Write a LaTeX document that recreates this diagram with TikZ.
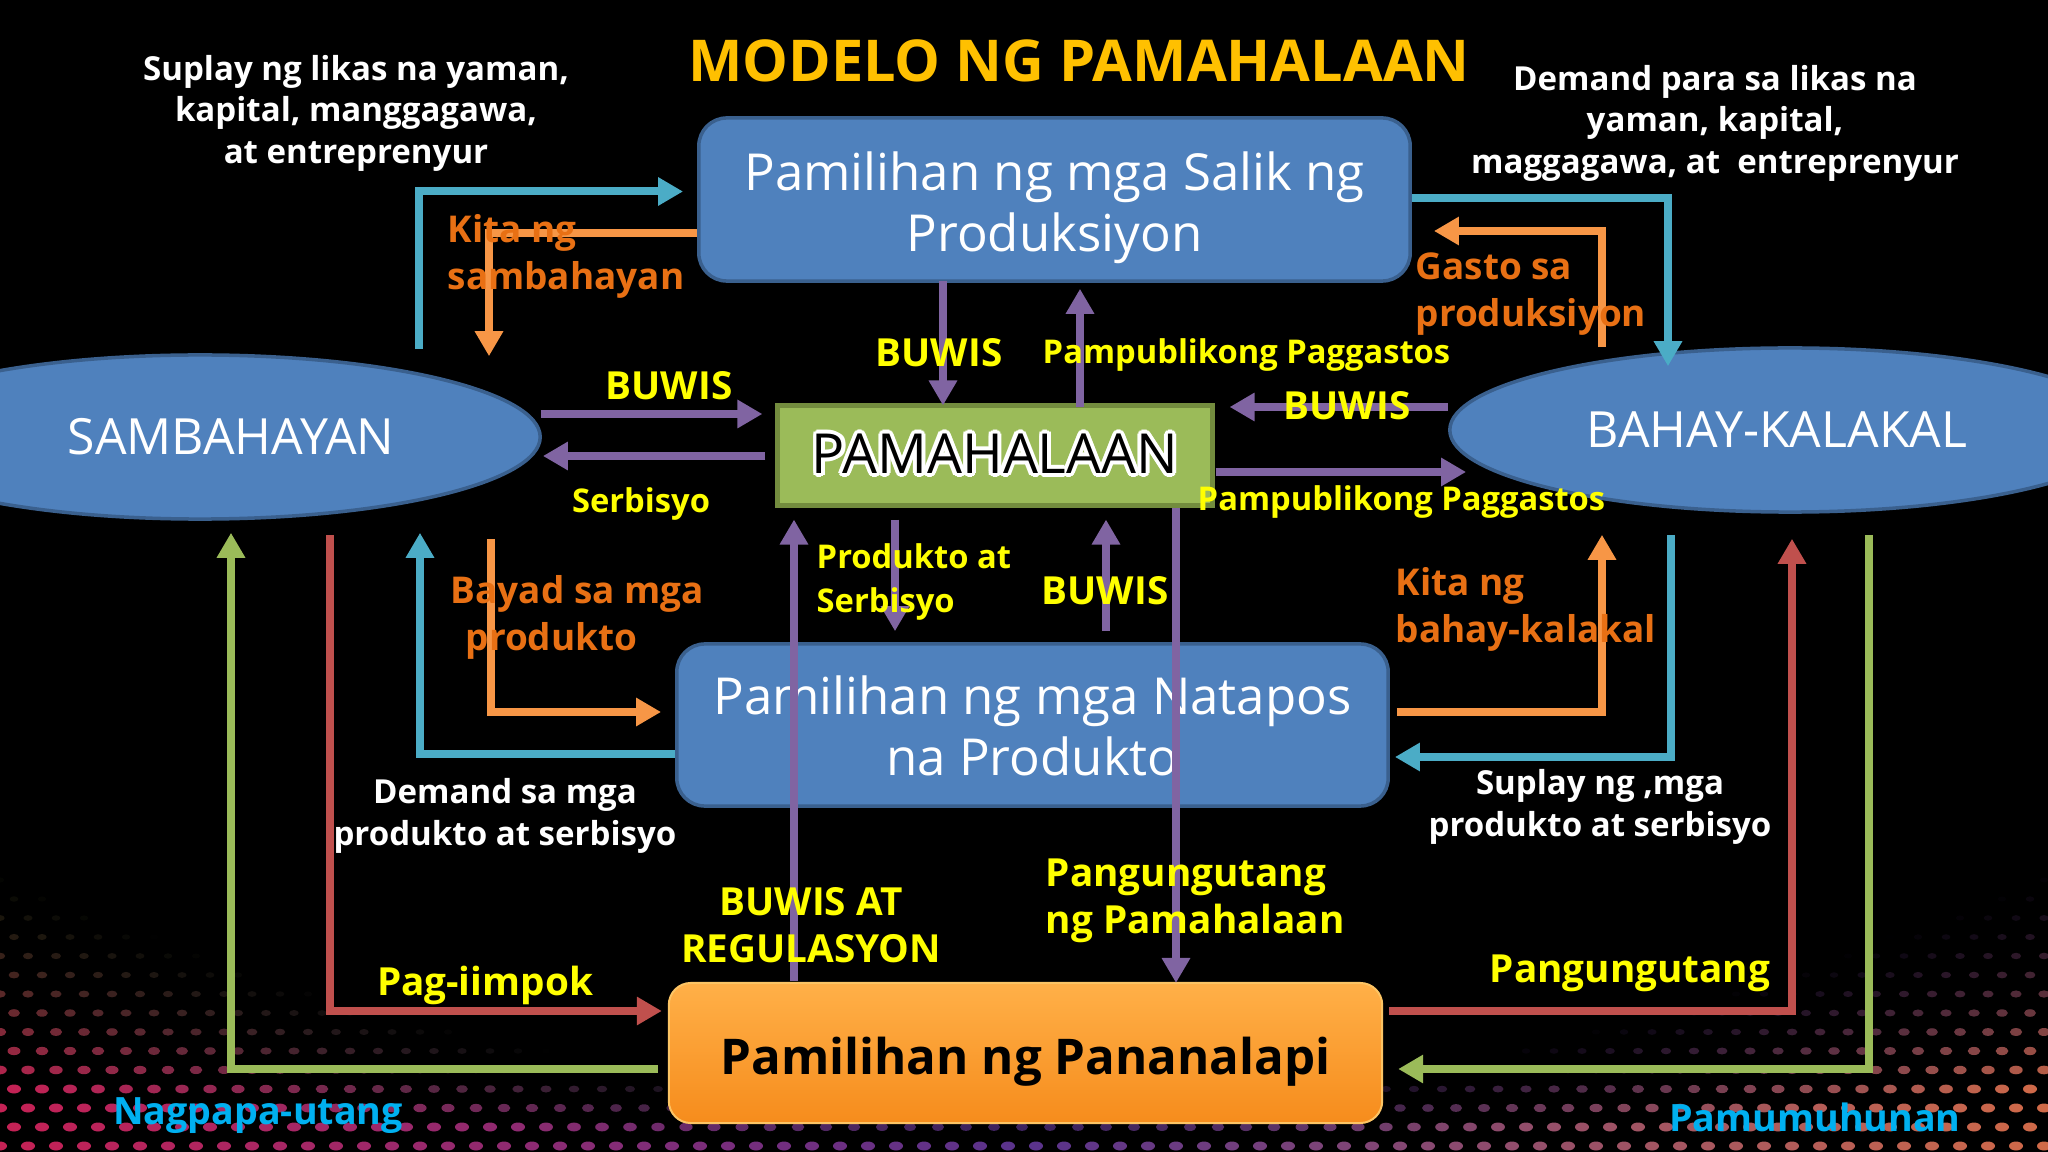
\documentclass[tikz,border=0pt]{standalone}
\usepackage{fontspec}
\setmainfont{Open Sans}
\usepackage{contour}
\usepackage{tikz}
\usetikzlibrary{shapes.geometric}
\usetikzlibrary{arrows.meta}

\definecolor{bgmid}{RGB}{26,26,26}
\definecolor{bluefill}{RGB}{79,129,189}
\definecolor{blueedge}{RGB}{58,96,142}
\definecolor{greenfill}{RGB}{155,187,89}
\definecolor{greenedge}{RGB}{115,140,62}
\definecolor{orangetop}{RGB}{255,176,72}
\definecolor{orangebot}{RGB}{246,140,28}
\definecolor{cyanline}{RGB}{75,172,198}
\definecolor{orangeline}{RGB}{247,150,70}
\definecolor{purpleline}{RGB}{128,100,162}
\definecolor{redline}{RGB}{192,80,77}
\definecolor{greenline}{RGB}{155,187,89}
\definecolor{titlegold}{RGB}{255,192,0}
\definecolor{lblyellow}{RGB}{255,255,0}
\definecolor{lblorange}{RGB}{232,112,20}
\definecolor{lblcyan}{RGB}{0,176,240}
\definecolor{dotpink}{RGB}{232,40,100}
\definecolor{dotolive}{RGB}{120,140,60}
\definecolor{dotpurple}{RGB}{105,60,165}
\definecolor{dotsalmon}{RGB}{245,125,85}

\newcommand{\lowered}[2]{\raisebox{-#1}[\height][\depth]{\begin{tabular}{@{}c@{}}#2\end{tabular}}}

\tikzset{
  bluebox/.style={draw=blueedge, line width=0.035cm, fill=bluefill, rounded corners=0.28cm,
    text=white, align=center, inner sep=0pt, font=\fontsize{14.5}{17.4}\selectfont},
  blueoval/.style={ellipse, draw=blueedge, line width=0.035cm, fill=bluefill, text=white,
    inner sep=0pt, minimum width=6.8cm, minimum height=1.64cm, font=\fontsize{14.2}{17}\selectfont},
  arr/.style={line width=0.08cm, -{Triangle[length=0.25cm,width=0.27cm]}},
  cyanarr/.style={arr, draw=cyanline},
  orangearr/.style={arr, draw=orangeline},
  purplearr/.style={arr, draw=purpleline},
  redarr/.style={arr, draw=redline},
  greenarr/.style={arr, draw=greenline},
  lbl/.style={inner sep=0pt, align=center, text=white, font=\fontsize{9.4}{11.8}\selectfont\bfseries},
  ylbl/.style={inner sep=0pt, align=left, text=lblyellow, font=\fontsize{9.3}{12.6}\selectfont\bfseries},
  bigylbl/.style={inner sep=0pt, align=left, text=lblyellow, font=\fontsize{11}{13.4}\selectfont\bfseries},
  olbl/.style={inner sep=0pt, align=left, text=lblorange, font=\fontsize{10.5}{13.4}\selectfont\bfseries},
  clbl/.style={inner sep=0pt, text=lblcyan, font=\fontsize{10.7}{13}\selectfont\bfseries}
}
\contourlength{1.1pt}
\contournumber{12}

\begin{document}
\begin{tikzpicture}[x=0.01cm, y=-0.01cm]
      \useasboundingbox (0,0) rectangle (2048,1152);
      \clip (0,0) rectangle (2048,1152);
      \fill[black] (0,0) rectangle (2048,1152);
      \shade[top color=black, middle color=bgmid, bottom color=black] (0,250) rectangle (2048,1152);
      % dotted floor
      \foreach \j in {0,...,15}{
        \foreach \i in {0,...,73}{
          \pgfmathsetmacro{\dx}{\i*28+mod(\j,2)*14}
          \pgfmathsetmacro{\dy}{1146-\j*19}
          \pgfmathsetmacro{\du}{(\dx-1024)/1024}
          \pgfmathsetmacro{\dtop}{870+230*(1-\du*\du)}
          \pgfmathsetmacro{\dt}{max(0,min(1,(\dy-\dtop)/(1152-\dtop)*1.3))}
          \pgfmathsetmacro{\dtp}{100*\dt}
          \pgfmathsetmacro{\mx}{100*abs(\du)}
          \ifdim\dt pt>0pt
            \ifdim\du pt<0pt
              \fill[dotpink!\dtp!dotolive!\mx!dotpurple, opacity=0.85*\dt] (\dx,\dy) ellipse [x radius=0.04cm+0.03cm*\dt, y radius=0.025cm+0.02cm*\dt];
            \else
              \fill[dotsalmon!\dtp!dotpurple!\mx!dotpurple, opacity=0.85*\dt] (\dx,\dy) ellipse [x radius=0.04cm+0.03cm*\dt, y radius=0.025cm+0.02cm*\dt];
            \fi
          \fi
        }
      }

      \node[text=titlegold, font=\fontsize{16.4}{19}\selectfont\bfseries] (title) at (1079,61) {MODELO NG PAMAHALAAN};

      \node[bluebox, minimum width=7.11cm, minimum height=1.63cm] (salik) at (1054.5,199.5) {\lowered{0.09cm}{Pamilihan ng mga Salik ng\\Produksiyon}};
      \node[bluebox, minimum width=7.11cm, minimum height=1.62cm] (natapos) at (1032.5,725) {\lowered{0.08cm}{Pamilihan ng mga Natapos\\na Produkto}};
      \node[blueoval] (sambahayan) at (200,437) {\hspace*{0.62cm}SAMBAHAYAN};
      \node[blueoval] (bahay) at (1790,430) {BAHAY-KALAKAL\hspace*{0.26cm}};
      \node[draw=greenedge, line width=0.05cm, fill=greenfill, minimum width=4.34cm, minimum height=0.99cm,
        text=black, font=\fontsize{15.7}{18}\selectfont] (pamahalaan) at (995,455.5) {\contour{white}{PAMAHALAAN}};
      \node[draw={rgb,255:red,252;green,196;blue,100}, line width=0.02cm, top color=orangetop, bottom color=orangebot,
        rounded corners=0.22cm, minimum width=7.13cm, minimum height=1.4cm, text=black,
        font=\fontsize{14}{17}\selectfont\bfseries] (pananalapi) at (1025.5,1053) {\lowered{0.1cm}{Pamilihan ng Pananalapi}};

      % cyan
      \draw[cyanarr] ([shift={(219,-4)}]sambahayan.north) |- ([shift={(-14,-8)}]salik.west);
      \draw[cyanarr] ([shift={(0,-1.5)}]salik.east) -| ([shift={(-122,20)}]bahay.north);
      \draw[cyanarr] ([shift={(-119,21)}]bahay.south) |- ([shift={(5,32)}]natapos.east);
      \draw[cyanarr] ([shift={(0,29)}]natapos.west) -| ([shift={(220,12)}]sambahayan.south);
      % orange
      \draw[orangearr] ([shift={(0,33.5)}]salik.west) -| ([shift={(289,3)}]sambahayan.north);
      \draw[orangearr] ([shift={(-188,1)}]bahay.north) |- ([shift={(22,31.5)}]salik.east);
      \draw[orangearr] ([shift={(291,18)}]sambahayan.south) |- ([shift={(-14,-13)}]natapos.west);
      \draw[orangearr] ([shift={(7,-13)}]natapos.east) -| ([shift={(-188,21)}]bahay.south);
      % purple
      \draw[purplearr] ([shift={(-1,-23)}]sambahayan.east) -- ([shift={(-13,-41.5)}]pamahalaan.west);
      \draw[purplearr] ([shift={(-10,0.5)}]pamahalaan.west) -- ([shift={(1,19)}]sambahayan.east);
      \draw[purplearr] ([shift={(-111.5,-2)}]salik.south) -- ([shift={(-52,2)}]pamahalaan.north);
      \draw[purplearr] ([shift={(85,4)}]pamahalaan.north) -- ([shift={(25.5,6)}]salik.south);
      \draw[purplearr] ([shift={(0,-23)}]bahay.west) -- ([shift={(15,-48.5)}]pamahalaan.east);
      \draw[purplearr] ([shift={(1,16.5)}]pamahalaan.east) -- ([shift={(18,42)}]bahay.west);
      \draw[purplearr] ([shift={(-100,12)}]pamahalaan.south) -- ([shift={(-137.5,-11)}]natapos.north);
      \draw[purplearr] ([shift={(73.5,-11)}]natapos.north) -- ([shift={(111,12)}]pamahalaan.south);
      \draw[purplearr] ([shift={(-231.5,-1)}]pananalapi.north) -- ([shift={(-201,12)}]pamahalaan.south);
      \draw[purplearr] ([shift={(181,0)}]pamahalaan.south) -- ([shift={(150.5,1)}]pananalapi.north);
      % red
      \draw[redarr] ([shift={(130,14)}]sambahayan.south) |- ([shift={(-6,-42)}]pananalapi.west);
      \draw[redarr] ([shift={(6,-42)}]pananalapi.east) -| ([shift={(2,25)}]bahay.south);
      % green
      \draw[greenarr] ([shift={(-10,16)}]pananalapi.west) -| ([shift={(31,12)}]sambahayan.south);
      \draw[greenarr] ([shift={(79,21)}]bahay.south) |- ([shift={(15,16)}]pananalapi.east);

      \node[lbl] (suplaysalik) at (356,113) {Suplay ng likas na yaman,\\kapital, manggagawa,\\at entreprenyur};
      \node[lbl] (demandsalik) at (1715,123) {Demand para sa likas na\\yaman, kapital,\\maggagawa, at\ \ entreprenyur};
      \node[olbl, anchor=west] (kitasamb) at (447,256) {Kita ng\\sambahayan};
      \node[bigylbl] (buwisA) at (669,386) {BUWIS};
      \node[ylbl] (serbisyoA) at (641,504) {Serbisyo};
      \node[bigylbl] (buwisB) at (939,353) {BUWIS};
      \node[ylbl, anchor=west] (gastosA) at (1042,355) {Pampublikong Paggastos};
      \node[bigylbl] (buwisC) at (1347,406) {BUWIS};
      \node[ylbl, anchor=west] (gastosB) at (1197,502) {Pampublikong Paggastos};
      \node[olbl, anchor=west] (gastoprod) at (1415,294) {Gasto sa\\produksiyon};
      \node[olbl, anchor=west] (bayad) at (450,617) {Bayad sa mga\\\hspace*{0.15cm}produkto};
      \node[ylbl, anchor=west] (prodserb) at (816,582) {Produkto at\\Serbisyo};
      \node[bigylbl] (buwisD) at (1105,591) {BUWIS};
      \node[olbl, anchor=west] (kitabahay) at (1395,609) {Kita ng\\bahay-kalakal};
      \node[lbl] (demandprod) at (505,816) {Demand sa mga\\produkto at serbisyo};
      \node[lbl] (suplayprod) at (1600,807) {Suplay ng ,mga\\produkto at serbisyo};
      \node[bigylbl, align=center] (regulasyon) at (811,925) {BUWIS AT\\REGULASYON};
      \node[bigylbl, anchor=west] (utangpam) at (1045,901) {Pangungutang\\ng Pamahalaan};
      \node[bigylbl] (impok) at (485,985) {Pag-iimpok};
      \node[bigylbl] (utang) at (1630,973) {Pangungutang};
      \node[clbl] (nagpapautang) at (258,1116) {Nagpapa-utang};
      \node[clbl] (pamumuhunan) at (1815,1117) {Pamumuhunan};
    \end{tikzpicture}
\end{document}
